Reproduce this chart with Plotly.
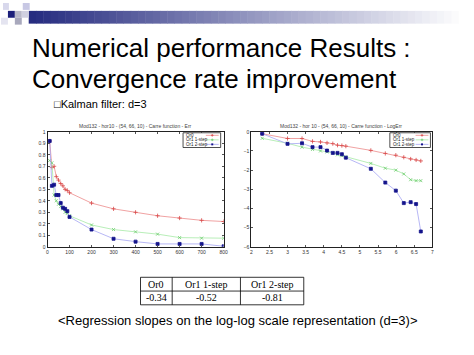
import plotly.graph_objects as go

W, H = 474, 355

# ---------------- data ----------------
iters = [10, 20, 30, 40, 50, 60, 70, 80, 90, 100, 200, 300, 400, 500, 600, 700, 800]
err_or0 = [0.92, 0.69, 0.70, 0.61, 0.58, 0.55, 0.53, 0.50, 0.49, 0.47, 0.38, 0.33, 0.30, 0.27, 0.25, 0.23, 0.22]
err_or1_1 = [0.75, 0.73, 0.45, 0.40, 0.37, 0.35, 0.33, 0.30, 0.29, 0.27, 0.19, 0.15, 0.13, 0.11, 0.08, 0.075, 0.075]
err_or1_2 = [0.92, 0.53, 0.54, 0.45, 0.45, 0.38, 0.34, 0.33, 0.31, 0.26, 0.15, 0.07, 0.045, 0.025, 0.025, 0.025, 0.005]

log_iters = [2.30, 3.00, 3.40, 3.69, 3.91, 4.09, 4.25, 4.38, 4.50, 4.61, 5.30, 5.70, 5.99, 6.21, 6.40, 6.55, 6.68]
logerr_or0 = [-0.10, -0.35, -0.35, -0.50, -0.53, -0.58, -0.62, -0.70, -0.72, -0.75, -0.97, -1.13, -1.22, -1.33, -1.42, -1.47, -1.52]
logerr_or1_1 = [-0.34, -0.60, -0.80, -0.92, -1.00, -1.05, -1.10, -1.20, -1.25, -1.30, -1.65, -1.90, -2.00, -2.20, -2.50, -2.55, -2.55]
logerr_or1_2 = [-0.10, -0.63, -0.60, -0.80, -0.80, -0.98, -1.10, -1.10, -1.17, -1.35, -1.93, -2.65, -3.07, -3.72, -3.67, -3.77, -5.20]

series_names = ["Or0", "Or1 1-step", "Or1 2-step"]
table_header = ["Or0", "Or1 1-step", "Or1 2-step"]
table_slopes = ["-0.34", "-0.52", "-0.81"]

title_line1 = "Numerical performance Results :"
title_line2 = "Convergence rate improvement"
bullet = "\u25a1Kalman filter: d=3"
caption = "<Regression slopes on the log-log scale representation (d=3)>"
title_left = "Mod132 - hor10 - (54, 66, 10) - Carre function - Err"
title_right = "Mod132 - hor 10 - (54, 66, 10) - Carre function - LogErr"

# ---------------- helpers ----------------
def px(x):
    return x / W

def py(y):
    return 1 - y / H

line_cols = ["#ec8a8a", "#a6eaa6", "#a4a4f2"]
mk_cols = ["#d84848", "#6ccc6c", "#14148c"]
mk_sym = ["cross-thin", "x-thin", "square"]
mk_size = [3, 3, 3]

fig = go.Figure()

for i, ys in enumerate([err_or0, err_or1_1, err_or1_2]):
    fig.add_trace(go.Scatter(
        x=iters, y=ys, name=series_names[i], mode="lines+markers", xaxis="x", yaxis="y",
        line=dict(color=line_cols[i], width=0.8),
        marker=dict(symbol=mk_sym[i], size=mk_size[i], color=mk_cols[i],
                    line=dict(color=mk_cols[i], width=0.8)),
        showlegend=False,
    ))
for i, ys in enumerate([logerr_or0, logerr_or1_1, logerr_or1_2]):
    fig.add_trace(go.Scatter(
        x=log_iters, y=ys, name=series_names[i], mode="lines+markers", xaxis="x2", yaxis="y2",
        line=dict(color=line_cols[i], width=0.8),
        marker=dict(symbol=mk_sym[i], size=mk_size[i], color=mk_cols[i],
                    line=dict(color=mk_cols[i], width=0.8)),
        showlegend=False,
    ))

axis_common = dict(showline=True, linecolor="#222", linewidth=1, mirror="ticks",
                   ticks="inside", ticklen=2, tickcolor="#555", showgrid=False,
                   zeroline=False, tickfont=dict(size=5, color="#333",
                                                  family="Liberation Sans"))

fig.update_layout(
    width=W, height=H, margin=dict(l=0, r=0, t=0, b=0),
    paper_bgcolor="white", plot_bgcolor="white",
    xaxis=dict(domain=[px(47), px(225)], range=[0, 800], dtick=100, anchor="y", **axis_common),
    yaxis=dict(domain=[py(248), py(131)], range=[0, 1], dtick=0.1, anchor="x", **axis_common),
    xaxis2=dict(domain=[px(253), px(436)], range=[2, 7], dtick=0.5, anchor="y2", **axis_common),
    yaxis2=dict(domain=[py(248), py(131)], range=[-6, 0], dtick=1, anchor="x2", **axis_common),
    showlegend=False,
)

shapes = []
annotations = []

# ---- slide decoration ----
n = 60
x0, x1 = 28, 470
for k in range(n):
    t = k / (n - 1)
    r = int(38 + (255 - 38) * t)
    g = int(44 + (255 - 44) * t)
    b = int(128 + (255 - 128) * t)
    shapes.append(dict(type="rect", xref="paper", yref="paper",
                       x0=px(x0 + (x1 - x0) * k / n), x1=px(x0 + (x1 - x0) * (k + 1) / n + 0.5),
                       y0=py(21), y1=py(8), line=dict(width=0),
                       fillcolor=f"rgb({r},{g},{b})", layer="below"))
squares = [
    (2, 0, 8, 7, "#d8d8ec"),
    (22, 0, 29, 7, "#c8c8e4"),
    (7, 8, 14, 15, "#1c1f7a"),
    (14, 8, 21, 15, "#b8b8c8"),
    (21, 8, 28, 15, "#d0d0e0"),
    (14, 15, 21, 22, "#a8a8bc"),
    (0, 15, 7, 22, "#e4e4f0"),
]
for (a, b_, c, d, col) in squares:
    shapes.append(dict(type="rect", xref="paper", yref="paper",
                       x0=px(a), x1=px(c), y0=py(d), y1=py(b_),
                       line=dict(width=0), fillcolor=col))

# ---- manual legends (gnuplot style: text left, sample right) ----
def add_legend(bx0, bx1, by0, by1):
    shapes.append(dict(type="rect", xref="paper", yref="paper",
                       x0=px(bx0), x1=px(bx1), y0=py(by1), y1=py(by0),
                       line=dict(color="#222", width=0.8), fillcolor="white"))
    for i, name in enumerate(series_names):
        yy = by0 + 2.6 + i * 4.6
        annotations.append(dict(text=name, x=px(bx0 + 1), y=py(yy), xref="paper", yref="paper",
                                xanchor="left", yanchor="middle", showarrow=False,
                                font=dict(family="Liberation Sans", size=4.5, color="#222")))
        sx0, sx1 = bx1 - 15, bx1 - 2
        shapes.append(dict(type="line", xref="paper", yref="paper",
                           x0=px(sx0), x1=px(sx1), y0=py(yy), y1=py(yy),
                           line=dict(color=line_cols[i], width=0.8)))
        mx = (sx0 + sx1) / 2
        if i == 2:
            shapes.append(dict(type="rect", xref="paper", yref="paper",
                               x0=px(mx - 1), x1=px(mx + 1), y0=py(yy + 1), y1=py(yy - 1),
                               line=dict(width=0), fillcolor=mk_cols[i]))
        else:
            shapes.append(dict(type="line", xref="paper", yref="paper",
                               x0=px(mx - 1.3), x1=px(mx + 1.3), y0=py(yy), y1=py(yy),
                               line=dict(color=mk_cols[i], width=0.8)))
            shapes.append(dict(type="line", xref="paper", yref="paper",
                               x0=px(mx), x1=px(mx), y0=py(yy + 1.3), y1=py(yy - 1.3),
                               line=dict(color=mk_cols[i], width=0.8)))

add_legend(184, 222, 132, 147)
add_legend(393, 434, 132, 147)

# ---- table drawn with lines and text ----
col_edges = [141, 173, 242, 306]
row_edges = [279, 293, 307]
for xe in col_edges:
    shapes.append(dict(type="line", xref="paper", yref="paper",
                       x0=px(xe), x1=px(xe), y0=py(row_edges[-1]), y1=py(row_edges[0]),
                       line=dict(color="black", width=0.8)))
for ye in row_edges:
    shapes.append(dict(type="line", xref="paper", yref="paper",
                       x0=px(col_edges[0]), x1=px(col_edges[-1]), y0=py(ye), y1=py(ye),
                       line=dict(color="black", width=0.8)))
for j in range(3):
    cx = (col_edges[j] + col_edges[j + 1]) / 2
    for r, vals in enumerate([table_header, table_slopes]):
        cy = (row_edges[r] + row_edges[r + 1]) / 2
        annotations.append(dict(text=vals[j], x=px(cx), y=py(cy), xref="paper", yref="paper",
                                xanchor="center", yanchor="middle", showarrow=False,
                                font=dict(family="Liberation Serif", size=10, color="black")))

fig.update_layout(shapes=shapes)

annotations += [
    dict(text=title_line1, x=px(29), y=py(46), xref="paper", yref="paper",
         xanchor="left", yanchor="middle", showarrow=False,
         font=dict(family="Liberation Sans", size=26, color="black")),
    dict(text=title_line2, x=px(29), y=py(77), xref="paper", yref="paper",
         xanchor="left", yanchor="middle", showarrow=False,
         font=dict(family="Liberation Sans", size=26, color="black")),
    dict(text=bullet, x=px(52), y=py(103), xref="paper", yref="paper",
         xanchor="left", yanchor="middle", showarrow=False,
         font=dict(family="Liberation Sans", size=11, color="black")),
    dict(text=title_left, x=px(136), y=py(125), xref="paper", yref="paper",
         xanchor="center", yanchor="middle", showarrow=False,
         font=dict(family="Liberation Sans", size=5, color="#444")),
    dict(text=title_right, x=px(344), y=py(125), xref="paper", yref="paper",
         xanchor="center", yanchor="middle", showarrow=False,
         font=dict(family="Liberation Sans", size=5, color="#444")),
    dict(text=caption.replace("<", "&lt;").replace(">", "&gt;"), x=px(56), y=py(323),
         xref="paper", yref="paper", xanchor="left", yanchor="middle", showarrow=False,
         font=dict(family="Liberation Sans", size=13, color="black")),
]
fig.update_layout(annotations=annotations)

fig.write_html("out.html", config={"displayModeBar": False},
               post_script="document.body.style.margin='0';")
